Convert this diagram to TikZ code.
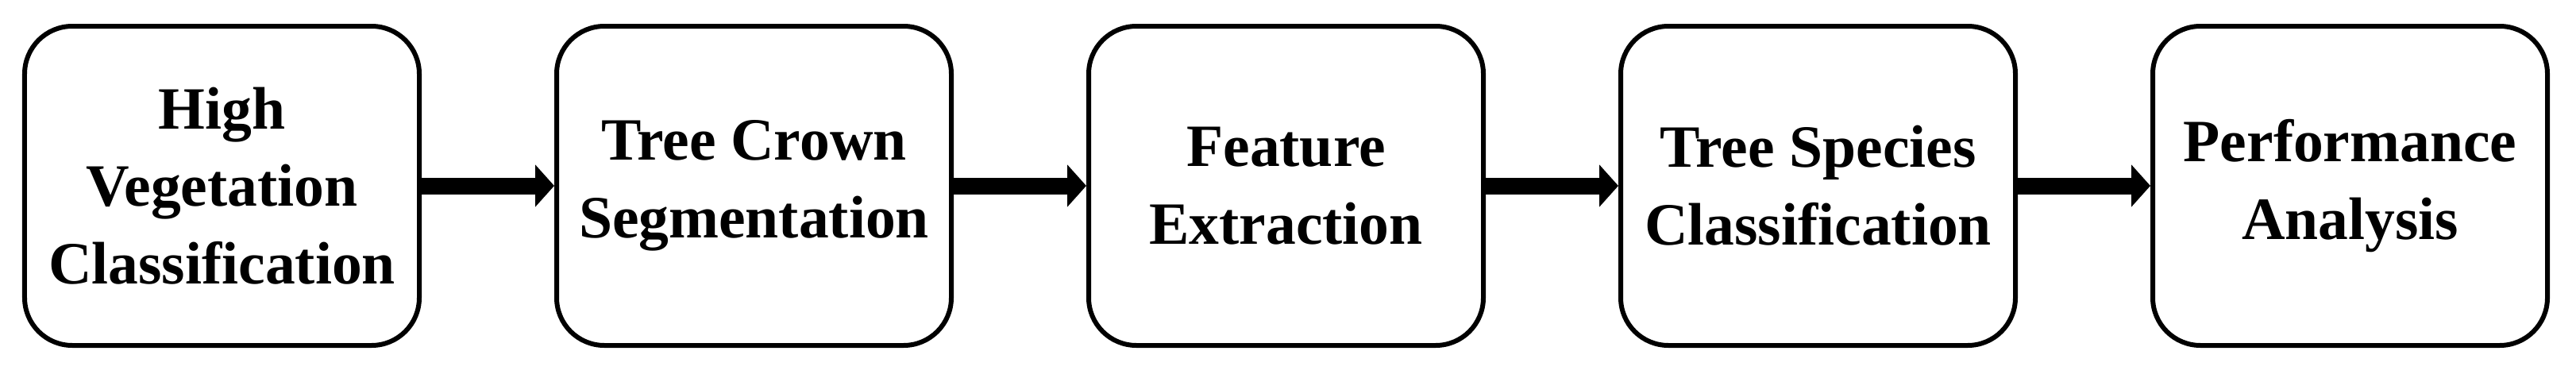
\documentclass[tikz,border=0pt]{standalone}
\usepackage{fontspec}
\setmainfont{Liberation Serif}
\usetikzlibrary{arrows.meta}
\tikzset{box/.style={draw,line width=0.6mm,rounded corners=6mm,minimum width=4.97cm,minimum height=4.02cm,inner sep=0pt,align=center,font=\bfseries\fontsize{21.5}{27.8}\selectfont}}
\tikzset{flow/.style={line width=2.1mm,-{Triangle[length=2.4mm,width=5.2mm]}}}

\begin{document}
\begin{tikzpicture}
\useasboundingbox (0,0) rectangle (32.44,4.70);
\node [box] (veg) at (2.795,2.36) {High\\Vegetation\\Classification};
\node [box] (crown) at (9.495,2.36) {Tree Crown\\Segmentation};
\node [box] (feat) at (16.195,2.36) {Feature\\Extraction};
\node [box] (spec) at (22.895,2.36) {Tree Species\\Classification};
\node [box] (perf) at (29.595,2.36) {Performance\\Analysis};

\draw [flow] (veg) -- (crown);
\draw [flow] (crown) -- (feat);
\draw [flow] (feat) -- (spec);
\draw [flow] (spec) -- (perf);
\end{tikzpicture}
\end{document}
